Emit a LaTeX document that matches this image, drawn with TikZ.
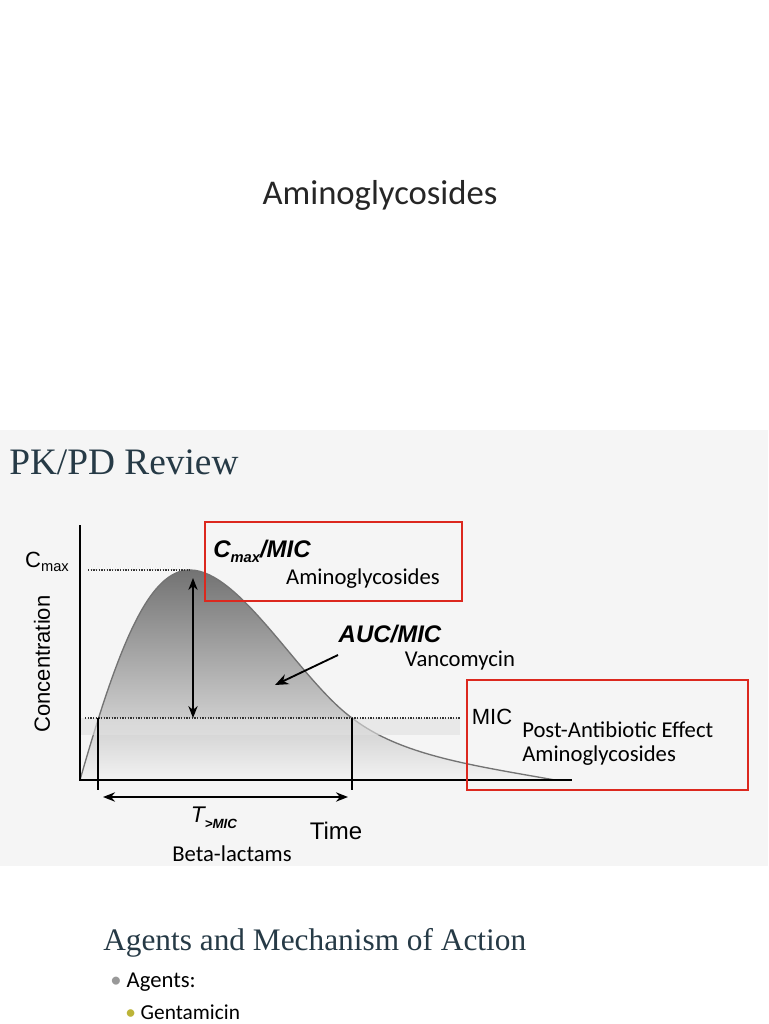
\documentclass[tikz,border=0pt]{standalone}
\usepackage{fontspec}
\setmainfont{Carlito}
\newfontfamily\arialf{Liberation Sans}
\newfontfamily\serf{Liberation Serif}
\usetikzlibrary{arrows.meta}
\definecolor{slate}{RGB}{38,58,70}
\definecolor{redbox}{RGB}{220,40,30}
\begin{document}
\begin{tikzpicture}[x=0.75pt,y=-0.75pt,
  lbl/.style={font=\arialf\fontsize{16.5}{18}\selectfont,inner sep=0},
  ann/.style={font=\fontsize{17}{19}\selectfont,inner sep=0},
  dotl/.style={line width=1.8pt,dash pattern=on 1pt off 1pt,black!80},
  rbox/.style={draw=redbox,line width=1.2pt},
  arr/.style={line width=1.4pt,{Stealth[length=9pt,width=7pt]}-{Stealth[length=9pt,width=7pt]}}]
\useasboundingbox (0,0) rectangle (768,1024);
\fill[white] (0,0) rectangle (768,1024);
\fill[black!4] (0,430) rectangle (768,866);
\node[font=\fontsize{26}{30}\selectfont,text=black!85] (t1) at (380,195) {Aminoglycosides};
\node[font=\serf\fontsize{28}{32}\selectfont,text=slate,anchor=west,inner sep=0] (t2) at (9,462) {PK/PD Review};
% curve
\shade[top color=black!55,bottom color=black!5,draw=black!55,line width=1pt]
 (80,780) .. controls (120,640) and (150,570) .. (190,570) .. controls (240,570) and (300,680) .. (352,718) .. controls (400,755) and (470,765) .. (555,780) -- cycle;
\fill[black!12,opacity=0.6] (80,718) rectangle (460,735);
% axes
\coordinate (yo) at (80,780); \coordinate (yt) at (80,525); \coordinate (xe) at (572,780);
\draw[line width=1.5pt] (yt) -- (yo) -- (xe);
\coordinate (c1) at (88,570); \coordinate (c2) at (190,570);
\draw[dotl] (c1) -- (c2);
\coordinate (m1) at (85,718); \coordinate (m2) at (460,718);
\draw[dotl] (m1) -- (m2);
\coordinate (v1a) at (98,718); \coordinate (v1b) at (98,790);
\coordinate (v2a) at (352,718); \coordinate (v2b) at (352,790);
\draw[line width=1pt] (v1a) -- (v1b) (v2a) -- (v2b);
\coordinate (h1) at (103,797); \coordinate (h2) at (348,797);
\draw[arr] (h1) -- (h2);
\coordinate (a1) at (193,578); \coordinate (a2) at (193,718);
\draw[arr,line width=1pt] (a1) -- (a2);
\coordinate (s1) at (338,655); \coordinate (s2) at (275,685);
\draw[line width=1.4pt,-{Stealth[length=10pt,width=8pt]}] (s1) -- (s2);
% boxes
\draw[rbox] (205,522) rectangle (462,601);
\draw[rbox] (467,680) rectangle (748,790);
% labels
\node[lbl] (cmax) at (47,562) {C\raisebox{-0.3ex}{\fontsize{11}{12}\selectfont max}};
\node[lbl,rotate=90] (conc) at (42,664) {Concentration};
\node[lbl,font=\arialf\bfseries\itshape\fontsize{18}{20}\selectfont] (cm) at (262,551) {C\raisebox{-0.4ex}{\fontsize{11}{12}\selectfont max}/MIC};
\node[ann] (ag1) at (363,579) {Aminoglycosides};
\node[lbl,font=\arialf\bfseries\itshape\fontsize{18}{20}\selectfont] (auc) at (390,634) {AUC/MIC};
\node[ann] (van) at (460,661) {Vancomycin};
\node[lbl] (mic) at (492,717) {MIC};
\node[ann,anchor=west] (pae) at (522,730) {Post-Antibiotic Effect};
\node[ann,anchor=west] (ag2) at (522,756) {Aminoglycosides};
\node[lbl,font=\arialf\itshape\fontsize{17}{19}\selectfont] (tm) at (214,818) {T\raisebox{-0.5ex}{\bfseries\fontsize{10}{11}\selectfont >MIC}};
\node[lbl,font=\arialf\fontsize{18}{20}\selectfont] (time) at (336,831) {Time};
\node[ann] (bl) at (232,854) {Beta-lactams};
% bottom slide
\node[font=\serf\fontsize{23.5}{27}\selectfont,text=slate,anchor=west,inner sep=0] (t3) at (103,943) {Agents and Mechanism of Action};
\node[ann,anchor=west] (agt) at (110,982) {\textcolor{black!40}{\textbullet}\ Agents:};
\node[ann,anchor=west,font=\fontsize{16}{18}\selectfont] (gen) at (125,1012) {\textcolor{yellow!70!black}{\textbullet}\ Gentamicin};
\end{tikzpicture}
\end{document}
